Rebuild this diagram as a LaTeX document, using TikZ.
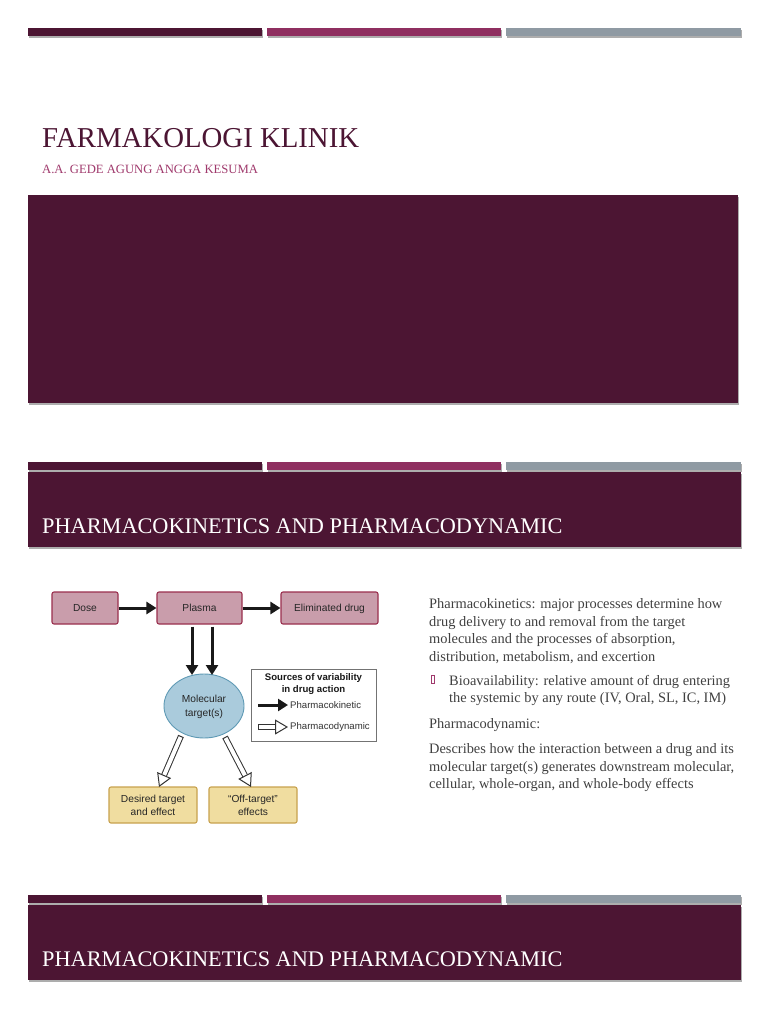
\documentclass[tikz,border=0pt]{standalone}
\usepackage{fontspec}
\setmainfont{Liberation Serif}
\setsansfont{Liberation Sans}
\usetikzlibrary{arrows.meta,shadows,calc}
\definecolor{wine}{HTML}{4C1533}
\definecolor{plum}{HTML}{8F2F60}
\definecolor{slate}{HTML}{8F9AA3}
\definecolor{subt}{HTML}{A03A6D}
\definecolor{bodyt}{HTML}{404040}
\definecolor{pinkbox}{HTML}{C99DAB}
\definecolor{pinkedge}{HTML}{9A2F4E}
\definecolor{yelbox}{HTML}{F0DDA0}
\definecolor{yeledge}{HTML}{C8A24E}
\definecolor{bluefill}{HTML}{AACBDC}
\definecolor{blueedge}{HTML}{5F9AB5}
\tikzset{
  x=1pt,y=-1pt,
  panel/.style={anchor=north west,inner sep=0pt,outer sep=0pt,fill=#1,
    drop shadow={shadow xshift=0.6pt,shadow yshift=-1.6pt,fill=black,opacity=.32}},
  barA/.style={panel=wine,minimum width=234pt,minimum height=8pt},
  barB/.style={panel=plum,minimum width=234pt,minimum height=8pt},
  barC/.style={panel=slate,minimum width=235pt,minimum height=8pt},
  bandbox/.style={panel=wine,minimum width=713pt,minimum height=75pt},
  bandtext/.style={anchor=west,inner sep=0pt,text=white,font=\fontsize{22.3}{26}\selectfont},
  bodytext/.style={anchor=north west,inner sep=0pt,align=left,text=bodyt,
    font=\fontsize{14.4}{17.5}\selectfont},
  flowbox/.style={draw=pinkedge,line width=1.1pt,fill=pinkbox,rounded corners=2pt,inner sep=0pt,
    minimum height=32pt,text height=9pt,text depth=2pt,font=\sffamily\fontsize{10.2}{12}\selectfont,text=black!85},
  outbox/.style={draw=yeledge,line width=1.1pt,fill=yelbox,rounded corners=2pt,inner sep=0pt,
    minimum width=88pt,minimum height=36pt,align=center,
    font=\sffamily\fontsize{10.2}{13.3}\selectfont,text=black!85},
  pkarrow/.style={line width=3pt,black!90,-{Triangle[length=10pt,width=12pt]}},
  pdarrow/.style={draw=black!80,line width=1pt,double=white,double distance=4pt,
    {Bar[width=6pt]}-{Triangle[open,fill=white,length=13pt,width=15pt]}}
}
\begin{document}
\begin{tikzpicture}
\useasboundingbox (0,0) rectangle (768,1024);
\fill[white] (0,0) rectangle (768,1024);
% top bars
\node[barA] (a1) at (28,28) {};
\node[barB] (b1) at (267,28) {};
\node[barC] (c1) at (506,28) {};
\node[anchor=west,inner sep=0pt,text=wine,font=\fontsize{28.8}{32}\selectfont] (title) at (42,138) {FARMAKOLOGI KLINIK};
\node[anchor=west,inner sep=0pt,text=subt,font=\fontsize{12.65}{16}\selectfont] (subtitle) at (42,169) {A.A. GEDE AGUNG ANGGA KESUMA};
\node[panel=wine,minimum width=710pt,minimum height=208pt] (hero) at (28,195) {};
% second slide
\node[barA] (a2) at (28,462) {};
\node[barB] (b2) at (267,462) {};
\node[barC] (c2) at (506,462) {};
\node[bandbox] (band2) at (28,472) {};
\node[bandtext] (t2) at (42,526) {PHARMACOKINETICS AND PHARMACODYNAMIC};
% diagram
\node[flowbox,minimum width=66pt] (dose) at (85,608) {Dose};
\node[flowbox,minimum width=85pt] (plasma) at (199.5,608) {Plasma};
\node[flowbox,minimum width=97pt] (elim) at (329.5,608) {Eliminated drug};
\draw[pkarrow] (dose.east) -- (plasma.west);
\draw[pkarrow] (plasma.east) -- (elim.west);
\draw[line width=.9pt,draw=blueedge,fill=bluefill] (204,706) ellipse [x radius=40,y radius=32];
\node[align=center,inner sep=0pt,text=black!85,font=\sffamily\fontsize{10.2}{13.5}\selectfont] (target) at (204,707) {Molecular\\target(s)};
\coordinate (p1s) at ($(plasma.south)+(-7.5,2)$);
\coordinate (p2s) at ($(plasma.south)+(12.5,2)$);
\coordinate (t1n) at (192,675);
\coordinate (t2n) at (212,675);
\draw[pkarrow] (p1s) -- (t1n);
\draw[pkarrow] (p2s) -- (t2n);
\node[outbox] (desired) at (153,805) {Desired target\\and effect};
\node[outbox] (off) at (253,805) {``Off-target''\\effects};
\coordinate (t1s) at (181,736);
\coordinate (t2s) at (225,737);
\coordinate (d1) at (159,787);
\coordinate (o1) at (251,787);
\draw[pdarrow] (t1s) -- (d1);
\draw[pdarrow] (t2s) -- (o1);
% legend
\node[draw=black!55,line width=.8pt,fill=white,anchor=north west,inner sep=0pt,minimum width=125pt,minimum height=72pt] (legend) at (251,669) {};
\node[align=center,inner sep=0pt,text=black!90,font=\sffamily\bfseries\fontsize{9.6}{11.8}\selectfont] (legtitle) at (313.5,684) {Sources of variability\\in drug action};
\coordinate (k1) at (258,705);
\coordinate (k2) at (288,705);
\coordinate (d3) at (258,727);
\coordinate (d4) at (288,727);
\draw[pkarrow] (k1) -- (k2);
\draw[pdarrow] (d3) -- (d4);
\node[anchor=west,inner sep=0pt,text=black!80,font=\sffamily\fontsize{9.6}{11}\selectfont] (pk) at (290,705) {Pharmacokinetic};
\node[anchor=west,inner sep=0pt,text=black!80,font=\sffamily\fontsize{9.6}{11}\selectfont] (pd) at (290,727) {Pharmacodynamic};
% body text
\node[bodytext] (para1) at (429,598.5) {Pharmacokinetics: major processes determine how\\drug delivery to and removal from the target\\molecules and the processes of absorption,\\distribution, metabolism, and excertion};
\node[draw=subt,line width=.6pt,inner sep=0pt,minimum width=3pt,minimum height=8pt] (bullet) at (433,679) {};
\node[bodytext] (para2) at (449,675) {Bioavailability: relative amount of drug entering\\the systemic by any route (IV, Oral, SL, IC, IM)};
\node[bodytext] (para3) at (429,718) {Pharmacodynamic:};
\node[bodytext] (para4) at (429,743.5) {Describes how the interaction between a drug and its\\molecular target(s) generates downstream molecular,\\cellular, whole-organ, and whole-body effects};
% third slide
\node[barA] (a3) at (28,895) {};
\node[barB] (b3) at (267,895) {};
\node[barC] (c3) at (506,895) {};
\node[bandbox] (band3) at (28,905) {};
\node[bandtext] (t3) at (42,959) {PHARMACOKINETICS AND PHARMACODYNAMIC};
\end{tikzpicture}
\end{document}
